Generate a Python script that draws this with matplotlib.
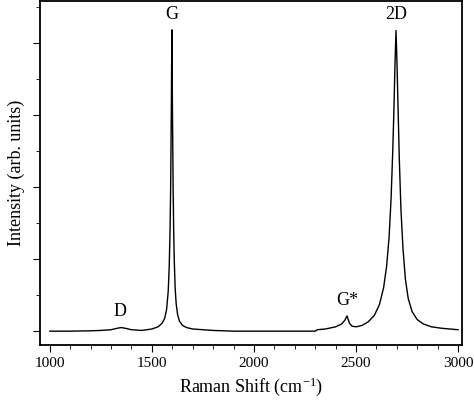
import matplotlib
matplotlib.use("Agg")
import matplotlib.pyplot as plt
from matplotlib.ticker import MultipleLocator

# Raman spectrum (baseline = 0)
shift = [1000, 1100, 1200, 1250, 1300, 1330, 1350, 1370, 1400, 1450, 1500, 1530,
         1550, 1563, 1572, 1580, 1585, 1589, 1592, 1595, 1598, 1601, 1604, 1607,
         1610, 1614, 1619, 1626, 1635, 1650, 1670, 1700, 1800, 1900, 2000, 2100,
         2200, 2300, 2310, 2350, 2400, 2430, 2445, 2452, 2456, 2461, 2468, 2480,
         2500, 2530, 2560, 2590, 2615, 2635, 2650, 2662, 2672, 2680, 2686, 2691,
         2696, 2701, 2706, 2712, 2720, 2730, 2742, 2756, 2775, 2800, 2830, 2870,
         2920, 3000]
intensity = [0.0, 0.0, 0.005, 0.01, 0.02, 0.04, 0.05, 0.04, 0.02, 0.01, 0.03, 0.06,
             0.11, 0.18, 0.3, 0.55, 0.9, 1.4, 2.0, 3.0, 4.18, 3.0, 2.0, 1.35,
             0.95, 0.6, 0.38, 0.23, 0.14, 0.08, 0.05, 0.03, 0.01, 0.0, 0.0, 0.0,
             0.0, 0.0, 0.02, 0.03, 0.06, 0.1, 0.15, 0.19, 0.21, 0.17, 0.11, 0.07,
             0.06, 0.08, 0.13, 0.22, 0.37, 0.6, 0.9, 1.3, 1.85, 2.5, 3.1, 3.7,
             4.17, 3.7, 3.1, 2.4, 1.7, 1.15, 0.72, 0.45, 0.27, 0.16, 0.1, 0.06,
             0.04, 0.02]

peak_names = ["D", "G", "G*", "2D"]
peak_x = [1345, 1598, 2456, 2696]
peak_y = [0.05, 4.18, 0.21, 4.17]

plt.rcParams['font.family'] = ['Liberation Serif', 'DejaVu Serif']
plt.rcParams['mathtext.fontset'] = 'custom'
plt.rcParams['mathtext.rm'] = 'Liberation Serif'
plt.rcParams['mathtext.it'] = 'Liberation Serif:italic'

fig = plt.figure(figsize=(4.74, 4.01), dpi=100)
ax = fig.add_axes([0.084, 0.140, 0.891, 0.8575])
ax.plot(shift, intensity, color='black', lw=1.0)

for name, px, py in zip(peak_names, peak_x, peak_y):
    ax.text(px, py + 0.1, name, ha='center', va='bottom', fontsize=13)

ax.set_xlim(951, 3020)
ax.set_ylim(-0.19, 4.58)
ax.xaxis.set_major_locator(MultipleLocator(500))
ax.xaxis.set_minor_locator(MultipleLocator(100))
ax.yaxis.set_major_locator(MultipleLocator(1))
ax.yaxis.set_minor_locator(MultipleLocator(0.5))
ax.tick_params(which='both', direction='out', top=False, right=False)
ax.tick_params(which='major', length=5, labelsize=11)
ax.tick_params(which='minor', length=3)
ax.tick_params(axis='y', labelleft=False)
for s in ax.spines.values():
    s.set_linewidth(1.3)

ax.set_xlabel(r"Raman Shift (cm$^{\mathrm{-1}}$)", fontsize=13)
ax.set_ylabel("Intensity (arb. units)", fontsize=13)

fig.savefig("out.png", dpi=100)
